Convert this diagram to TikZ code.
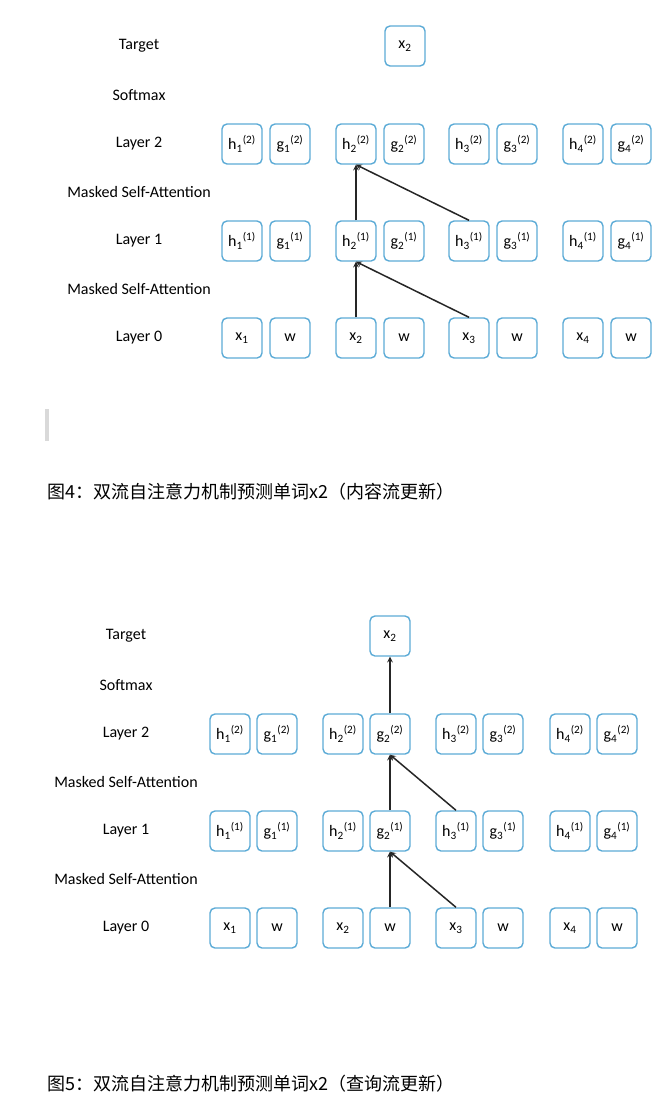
\documentclass[tikz,border=0pt]{standalone}
\usepackage{fontspec}
\setmainfont{Carlito}
\newfontfamily\cjk{Noto Sans CJK SC}
\begin{document}
\begin{tikzpicture}[x=1pt,y=-1pt,
  bx/.style={draw=blue!35!cyan!60!gray!80, line width=1.4pt, rounded corners=5pt, minimum width=40pt, minimum height=40pt, inner sep=0pt, font=\fontsize{16}{18}\selectfont},
  lab/.style={font=\fontsize{16}{18}\selectfont},
  captxt/.style={anchor=west, font=\cjk\fontsize{18}{20}\selectfont},
  ar/.style={->, >=stealth, line width=1.5pt, black!85}]
\useasboundingbox (0,0) rectangle (664,1112);
\newcommand\mkdiag[9]{%
 \node[lab] at (#2,#7) {Target};
 \node[lab] at (#2,#7+49) {Softmax};
 \node[lab] at (#2,#7+98) {Layer 2};
 \node[lab] at (#2,#7+146) {Masked Self-Attention};
 \node[lab] at (#2,#7+195) {Layer 1};
 \node[lab] at (#2,#7+243) {Masked Self-Attention};
 \node[lab] at (#2,#7+292) {Layer 0};
 \foreach \i/\c in {1/#3,2/#4,3/#5,4/#6}{
   \node[bx] (#1h2\i) at (\c,#7+98) {h\textsubscript{\i}\textsuperscript{(2)}};
   \node[bx] (#1g2\i) at (\c+#8,#7+98) {g\textsubscript{\i}\textsuperscript{(2)}};
   \node[bx] (#1h1\i) at (\c,#7+195) {h\textsubscript{\i}\textsuperscript{(1)}};
   \node[bx] (#1g1\i) at (\c+#8,#7+195) {g\textsubscript{\i}\textsuperscript{(1)}};
   \node[bx] (#1x\i) at (\c,#7+292) {x\textsubscript{\i}};
   \node[bx] (#1w\i) at (\c+#8,#7+292) {w};
 }
 \node[bx] (#1t) at (#9,#7) {x\textsubscript{2}};
}
\mkdiag{a}{139}{242}{356}{469}{583}{46}{48}{405}
\draw[ar] (ax2.north) -- (ah12.south);
\draw[ar] (ax3.north) -- (ah12.south);
\draw[ar] (ah12.north) -- (ah22.south);
\draw[ar] (ah13.north) -- (ah22.south);
\fill[black!15] (45,409) rectangle (49,441);
\node[captxt] at (44,492) {图4：双流自注意力机制预测单词x2（内容流更新）};
\mkdiag{b}{126}{230}{343}{456}{570}{636}{47}{390}
\draw[ar] (bw2.north) -- (bg12.south);
\draw[ar] (bx3.north) -- (bg12.south);
\draw[ar] (bg12.north) -- (bg22.south);
\draw[ar] (bh13.north) -- (bg22.south);
\draw[ar] (bg22.north) -- (bt.south);
\node[captxt] at (44,1084) {图5：双流自注意力机制预测单词x2（查询流更新）};
\end{tikzpicture}
\end{document}
